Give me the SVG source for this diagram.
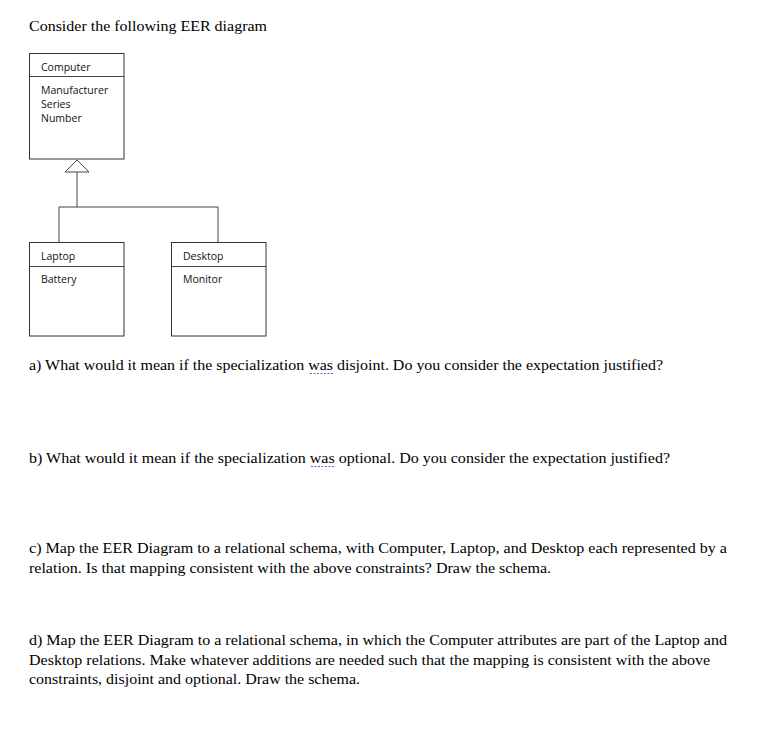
<svg xmlns="http://www.w3.org/2000/svg" width="763" height="740" viewBox="0 0 763 740">
<style>
.q{font-family:"Liberation Serif","Times New Roman",serif;font-size:15.5px;fill:#000}
.e{font-family:"Open Sans","Liberation Sans",sans-serif;font-size:10.5px;fill:#111}
.box{fill:#fff;stroke:#333;stroke-width:1}
.ln{fill:none;stroke:#444;stroke-width:1}
.sp{stroke:#6a5acd;stroke-width:1.2;stroke-dasharray:2,1.5}
</style>
<rect width="763" height="740" fill="#fff"/>
<text class="q" x="29" y="31" textLength="238" lengthAdjust="spacingAndGlyphs">Consider the following EER diagram</text>

<g id="connectors">
<polygon class="ln" points="77,160 65,172 89,172" fill="#fff"/>
<line class="ln" x1="77" y1="172" x2="77" y2="207"/>
<line class="ln" x1="59" y1="207" x2="218" y2="207"/>
<line class="ln" x1="59" y1="207" x2="59" y2="242"/>
<line class="ln" x1="218" y1="207" x2="218" y2="242"/>
</g>

<g id="computer">
<rect class="box" x="29.5" y="53.5" width="94.5" height="105.5"/>
<line class="ln" x1="29.5" y1="76.5" x2="124" y2="76.5"/>
<text class="e" x="41" y="71">Computer</text>
<text class="e" x="41" y="94">Manufacturer</text>
<text class="e" x="41" y="108">Series</text>
<text class="e" x="41" y="122">Number</text>
</g>

<g id="laptop">
<rect class="box" x="29.5" y="242.5" width="94.5" height="93.5"/>
<line class="ln" x1="29.5" y1="266.5" x2="124" y2="266.5"/>
<text class="e" x="41" y="260">Laptop</text>
<text class="e" x="41" y="283">Battery</text>
</g>

<g id="desktop">
<rect class="box" x="171.5" y="242.5" width="94.5" height="93.5"/>
<line class="ln" x1="171.5" y1="266.5" x2="266" y2="266.5"/>
<text class="e" x="183" y="260">Desktop</text>
<text class="e" x="183" y="283">Monitor</text>
</g>

<text class="q" x="29" y="370" textLength="634" lengthAdjust="spacingAndGlyphs">a) What would it mean if the specialization was disjoint. Do you consider the expectation justified?</text>
<line class="sp" x1="310" y1="373.5" x2="334" y2="373.5"/>
<text class="q" x="29" y="463" textLength="641" lengthAdjust="spacingAndGlyphs">b) What would it mean if the specialization was optional. Do you consider the expectation justified?</text>
<line class="sp" x1="311" y1="466.5" x2="335" y2="466.5"/>

<text class="q" x="29" y="553" textLength="698" lengthAdjust="spacingAndGlyphs">c) Map the EER Diagram to a relational schema, with Computer, Laptop, and Desktop each represented by a</text>
<text class="q" x="29" y="573" textLength="522" lengthAdjust="spacingAndGlyphs">relation. Is that mapping consistent with the above constraints? Draw the schema.</text>

<text class="q" x="29" y="645" textLength="698" lengthAdjust="spacingAndGlyphs">d) Map the EER Diagram to a relational schema, in which the Computer attributes are part of the Laptop and</text>
<text class="q" x="29" y="665" textLength="681" lengthAdjust="spacingAndGlyphs">Desktop relations. Make whatever additions are needed such that the mapping is consistent with the above</text>
<text class="q" x="29" y="684" textLength="331" lengthAdjust="spacingAndGlyphs">constraints, disjoint and optional. Draw the schema.</text>
</svg>
